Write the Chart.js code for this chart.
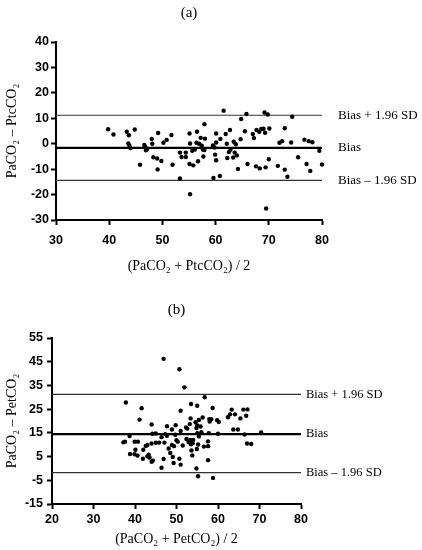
<!DOCTYPE html>
<html>
<head>
<meta charset="utf-8">
<script src="https://cdn.jsdelivr.net/npm/chart.js@4.4.0/dist/chart.umd.min.js"></script>
<style>
  html, body { margin: 0; padding: 0; background: #fff; }
  canvas { display: block; }
</style>
</head>
<body>
<canvas id="chartA" width="422" height="275"></canvas>
<canvas id="chartB" width="422" height="275"></canvas>
<script>
// (a) PaCO2 vs PtcCO2 : mean of the two (x) and difference (y)
const meanA = [39.8, 40.8, 43.3, 43.7, 44.8, 43.6, 43.8, 44.0, 45.8, 46.6, 46.8, 47.1, 46.9, 48.0, 48.1,
  48.3, 49.0, 49.1, 49.2, 49.8, 50.2, 50.8, 51.7, 51.9, 53.3, 53.3, 53.6, 54.4, 54.4, 55.1,
  55.2, 55.1, 55.2, 55.6, 55.8, 56.1, 56.4, 56.5, 56.7, 56.9, 57.2, 57.4, 57.7, 57.9, 57.9,
  58.0, 59.5, 59.6, 59.8, 59.9, 60.1, 60.1, 60.1, 60.8, 60.9, 61.5, 61.9, 62.1, 62.2, 62.5,
  62.7, 62.8, 63.3, 63.4, 63.6, 63.8, 64.0, 64.2, 64.7, 64.8, 65.5, 65.8, 66.0, 67.0, 67.2,
  67.6, 67.7, 68.2, 68.3, 68.6, 69.0, 69.2, 69.3, 69.4, 69.5, 69.8, 70.1, 70.0, 71.7, 72.0,
  72.5, 73.0, 73.0, 73.5, 74.2, 74.4, 75.5, 76.7, 77.1, 77.5, 77.8, 78.2, 79.5, 80.0, 57.6];
const diffA = [5.7, 3.6, 4.7, 3.3, 5.6, 0.1, -0.8, -1.7, -8.3, -0.5, -1.3, -2.2, -2.6, 1.9, 0.0,
  -5.3, -5.8, -10.1, 4.2, -6.8, 0.4, 1.5, 3.4, -8.3, -3.5, -13.7, -5.2, -3.5, -5.2, 4.0,
  0.1, -8.0, -19.9, -2.8, -8.5, -2.3, 0.4, 4.7, -6.9, 0.0, 2.3, -0.8, -5.0, -2.5, 7.7,
  2.0, -0.7, -13.5, -1.5, -4.3, -6.5, 0.5, 4.0, -12.7, 1.9, 13.0, 3.8, 0.0, -5.6, -3.3,
  5.4, -2.4, -5.4, 0.8, -3.5, -0.2, -4.6, -9.9, 1.8, 9.7, 4.9, 11.7, -8.0, 3.8, 2.2,
  -8.9, 5.4, 4.7, -9.7, 5.8, 5.9, 12.3, 4.3, -9.3, -25.5, 11.5, 6.0, -6.1, -8.7, 0.4,
  1.0, 6.1, -10.2, -13.0, 0.5, 10.6, -5.3, 1.6, -8.0, 1.0, -10.7, 0.6, -2.8, -8.2, -2.3];
const limitsA = [11.2, -1.6, -14.4];
const xTicksA = [30, 40, 50, 60, 70, 80];
const yTicksA = [-30, -20, -10, 0, 10, 20, 30, 40];

// (b) PaCO2 vs PetCO2
const meanB = [46.9, 50.7, 51.9, 56.8, 37.8, 53.5, 55.0, 41.6, 58.7, 51.0, 63.3, 66.1, 67.1, 62.9, 64.1,
  66.8, 65.4, 62.4, 41.1, 44.0, 47.7, 49.8, 48.9, 51.0, 49.7, 53.4, 53.2, 52.3, 54.6, 55.0,
  55.4, 56.3, 54.8, 57.9, 58.0, 59.8, 60.2, 60.0, 63.7, 64.8, 66.4, 70.4, 67.0, 68.0, 57.8,
  55.2, 53.9, 57.6, 57.6, 57.6, 54.8, 55.2, 58.8, 46.4, 46.9, 49.1, 50.7, 53.6, 54.9, 48.1,
  48.9, 50.0, 50.3, 37.2, 37.6, 38.7, 38.8, 39.9, 39.9, 40.7, 40.1, 40.6, 42.0, 41.9, 42.6,
  43.0, 43.0, 43.5, 44.0, 44.0, 45.0, 45.8, 46.4, 47.1, 47.7, 44.2, 43.3, 52.4, 52.9, 53.3,
  53.5, 54.0, 55.0, 55.4, 56.0, 55.8, 53.8, 51.5, 49.3, 51.0, 45.0, 47.3, 56.6, 58.4, 48.5,
  52.6, 49.4, 44.3];
const diffB = [46.2, 41.8, 34.2, 30.0, 27.8, 27.2, 26.4, 25.4, 25.5, 24.3, 24.8, 24.8, 24.9, 22.8, 22.8,
  22.2, 21.1, 21.6, 20.6, 18.5, 17.8, 18.2, 16.4, 15.8, 14.2, 21.1, 18.7, 17.3, 19.5, 18.1,
  20.4, 21.5, 17.0, 20.8, 19.8, 20.3, 19.6, 14.6, 16.4, 16.4, 14.3, 15.2, 10.5, 10.3, 14.9,
  10.1, 10.6, 11.4, 9.4, 3.5, 0.0, -3.3, -4.0, 0.3, 4.0, 4.8, 4.1, 7.6, 8.2, 8.4,
  9.9, 11.9, 11.3, 11.0, 11.3, 13.7, 6.1, 6.0, 11.3, 11.3, 7.9, 5.4, 7.9, 4.1, 9.5,
  9.9, 5.1, 4.6, 2.8, 10.5, 10.8, 10.9, 13.2, 10.9, 13.8, 14.6, 5.8, 12.4, 11.1, 12.0,
  10.2, 12.0, 14.9, 13.5, 15.3, 17.7, 5.5, 9.7, 2.3, 1.6, 14.7, 14.4, 9.2, 20.8, 6.5,
  16.8, 9.4, 3.3];
const limitsB = [31.2, 14.5, -1.8];
const xTicksB = [20, 30, 40, 50, 60, 70, 80];
const yTicksB = [-15, -5, 5, 15, 25, 35, 45, 55];

const limitLabels = ['Bias + 1.96 SD', 'Bias', 'Bias \u2013 1.96 SD'];

const serif = '"Liberation Serif", "DejaVu Serif", serif';
const sans = '"Liberation Sans", Arial, sans-serif';

// title above the plot and the labels at the right end of the bias lines
const sideLabels = {
  id: 'sideLabels',
  afterDraw(chart, args, opts) {
    const { ctx, chartArea, scales } = chart;
    ctx.save();
    ctx.fillStyle = '#000';
    ctx.textBaseline = 'middle';
    ctx.textAlign = 'left';
    ctx.font = opts.labelSize + 'px ' + serif;
    opts.values.forEach((v, i) => {
      ctx.fillText(limitLabels[i], chartArea.right + opts.gap, scales.y.getPixelForValue(v));
    });
    ctx.textAlign = 'center';
    ctx.font = '15px ' + serif;
    ctx.fillText(opts.title, (chartArea.left + chartArea.right) / 2, opts.titleY);
    ctx.restore();
  }
};

function makeChart(id, p) {
  const points = p.xs.map((x, i) => ({ x: x, y: p.ys[i] }));
  const xMin = p.xTicks[0], xMax = p.xTicks[p.xTicks.length - 1];
  const lines = p.limits.map((v, i) => ({
    type: 'line',
    data: [{ x: xMin, y: v }, { x: xMax, y: v }],
    borderColor: i === 1 ? '#000' : '#333',
    borderWidth: i === 1 ? 2.2 : 1.2,
    pointRadius: 0,
    clip: false
  }));

  const tickFont = { family: sans, size: 12.5, weight: 'bold' };
  const titleFont = { family: serif, size: 14 };

  return new Chart(document.getElementById(id), {
    type: 'scatter',
    data: {
      datasets: [{
        data: points,
        backgroundColor: '#000',
        borderWidth: 0,
        pointRadius: 2.2,
        clip: false
      }].concat(lines)
    },
    options: {
      responsive: false,
      animation: false,
      layout: { padding: { left: 0, right: p.padRight, top: p.padTop, bottom: 0 } },
      plugins: {
        legend: { display: false },
        tooltip: { enabled: false },
        sideLabels: { values: p.limits, gap: p.gap, title: p.title, titleY: p.titleY, labelSize: p.labelSize }
      },
      scales: {
        x: {
          type: 'linear',
          min: xMin,
          max: xMax,
          afterBuildTicks: s => { s.ticks = p.xTicks.map(v => ({ value: v })); },
          afterFit: s => { s.height = p.xHeight; s.paddingLeft = 0; s.paddingRight = 0; },
          ticks: { color: '#000', font: tickFont, padding: p.xTickPad },
          grid: { drawOnChartArea: false, drawTicks: true, tickLength: 5, tickWidth: 2, tickColor: '#000' },
          border: { color: '#000', width: 2 },
          title: { display: true, text: p.xTitle, color: '#000', font: titleFont, padding: { top: 0, bottom: p.xTitlePad } }
        },
        y: {
          type: 'linear',
          min: p.yTicks[0],
          max: p.yTicks[p.yTicks.length - 1],
          afterBuildTicks: s => { s.ticks = p.yTicks.map(v => ({ value: v })); },
          afterFit: s => { s.width = p.yWidth; s.paddingTop = 0; s.paddingBottom = 0; },
          ticks: { color: '#000', font: tickFont, padding: p.yTickPad },
          grid: { drawOnChartArea: false, drawTicks: true, tickLength: 5, tickWidth: 2, tickColor: '#000' },
          border: { color: '#000', width: 2 },
          title: { display: true, text: p.yTitle, color: '#000', font: titleFont, padding: { top: 4, bottom: 0 } }
        }
      }
    },
    plugins: [sideLabels]
  });
}

makeChart('chartA', {
  xs: meanA, ys: diffA, limits: limitsA, xTicks: xTicksA, yTicks: yTicksA,
  title: '(a)', titleY: 13,
  xTitle: '(PaCO\u2082 + PtcCO\u2082) / 2', yTitle: 'PaCO\u2082 \u2013 PtcCO\u2082',
  padRight: 100, padTop: 42, yWidth: 56, xHeight: 55,
  xTickPad: 8, yTickPad: 2, xTitlePad: 0, gap: 16, labelSize: 13
});

makeChart('chartB', {
  xs: meanB, ys: diffB, limits: limitsB, xTicks: xTicksB, yTicks: yTicksB,
  title: '(b)', titleY: 35,
  xTitle: '(PaCO\u2082 + PetCO\u2082) / 2', yTitle: 'PaCO\u2082 \u2013 PetCO\u2082',
  padRight: 121, padTop: 63, yWidth: 52, xHeight: 46,
  xTickPad: 3, yTickPad: 4, xTitlePad: 2, gap: 5, labelSize: 12.5
});
</script>
</body>
</html>
